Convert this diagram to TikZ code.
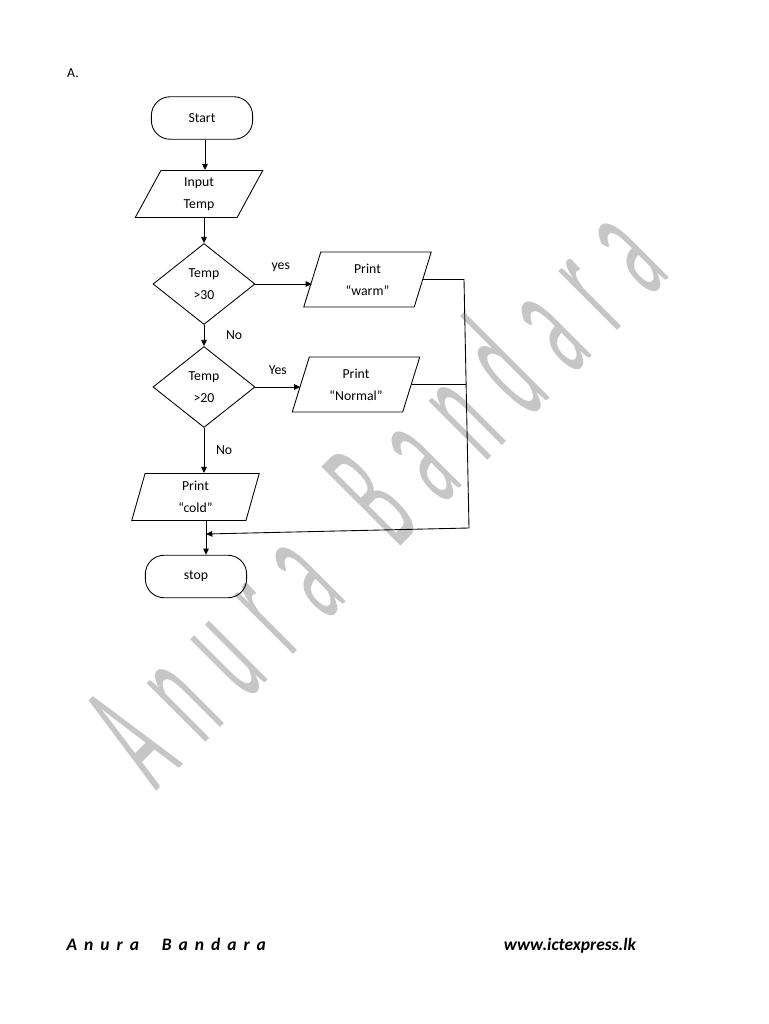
\documentclass[tikz,border=0pt]{standalone}
\usepackage{fontspec}
\setmainfont{Carlito}
\usetikzlibrary{shapes.geometric,arrows.meta}
\definecolor{wmark}{RGB}{198,198,198}
\newcommand{\wmgap}{\hspace{21.6pt}}
\newcommand{\ftgap}{\hspace{.4em}}
\tikzset{
    every node/.style={font=\fontsize{11}{17.6}\selectfont, align=center},
    terminal/.style={draw, rectangle, rounded corners=15pt, minimum width=81pt, minimum height=34pt},
    io/.style={draw, trapezium, trapezium stretches body=true, trapezium left angle=#1,
        trapezium right angle=180-#1, minimum width=102pt, minimum height=44pt, inner sep=2pt},
    decision/.style={draw, diamond, minimum width=81.6pt, minimum height=64.8pt, inner sep=0pt},
    flow/.style={-{Triangle[length=5pt,width=4.5pt]}},
    footer/.style={font=\fontsize{14}{16}\selectfont\bfseries\itshape},
}
\begin{document}
    \begin{tikzpicture}[x=0.8pt, y=-0.8pt, line width=0.7pt]
        \useasboundingbox (0,0) rectangle (768,1024);
        \fill[white] (0,0) rectangle (768,1024);
        \node[text=wmark, font=\fontsize{53.6}{60}\selectfont, rotate=45, yscale=2.6] (wm) at (372,491)
            {A\wmgap n\wmgap u\wmgap r\wmgap a\wmgap\ \wmgap B\wmgap a\wmgap n\wmgap d\wmgap a\wmgap r\wmgap a};

        \node (lbl) at (73,73) {A.};
        \node[terminal] (start) at (202,118) {Start};
        \node[io=56, minimum height=37.6pt] (input) at (199,194) {Input\\Temp};
        \node[decision] (d1) at (204,284) {Temp\\>30};
        \node[io=65] (warm) at (367.5,279.5) {Print\\“warm”};
        \node[decision] (d2) at (204,387) {Temp\\>20};
        \node[io=65] (normal) at (356,384.5) {Print\\“Normal”};
        \node[io=70, minimum height=37.6pt] (cold) at (195.5,497) {Print\\“cold”};
        \node[terminal] (stop) at (196,576.5) {stop};
        \coordinate (r1) at (464,284);
        \coordinate (r2) at (469,528);
        \coordinate (merge) at (206,534);

        \draw[flow] (start.south -| 205,0) -- (input.north -| 205,0);
        \draw[flow] (input.south -| 204,0) -- (d1.north);
        \draw[flow] (d1.east) -- (d1.east -| warm.west) node[pos=0.45, above=6pt] (yes1) {yes};
        \draw[flow] (d1.south) -- (d2.north) node[midway, right=14pt] (no1) {No};
        \draw[flow] (d2.east) -- (d2.east -| normal.west) node[pos=0.5, above=6pt] (yes2) {Yes};
        \draw[flow] (d2.south) -- (d2.south |- cold.north) node[midway, right=6pt] (no2) {No};
        \draw (warm.east) -- (warm.east -| r1) -- (r2);
        \draw (normal.east) -- (normal.east -| 466,0);
        \draw[flow] (r2) -- (merge);
        \draw[flow] (merge |- cold.south) -- (merge |- stop.north);

        \node[footer, anchor=base west] (author) at (62,950)
            {A\ftgap n\ftgap u\ftgap r\ftgap a\hspace{1.3em}B\ftgap a\ftgap n\ftgap d\ftgap a\ftgap r\ftgap a};
        \node[footer, anchor=base] (site) at (570,950) {www.ictexpress.lk};
    \end{tikzpicture}
\end{document}
